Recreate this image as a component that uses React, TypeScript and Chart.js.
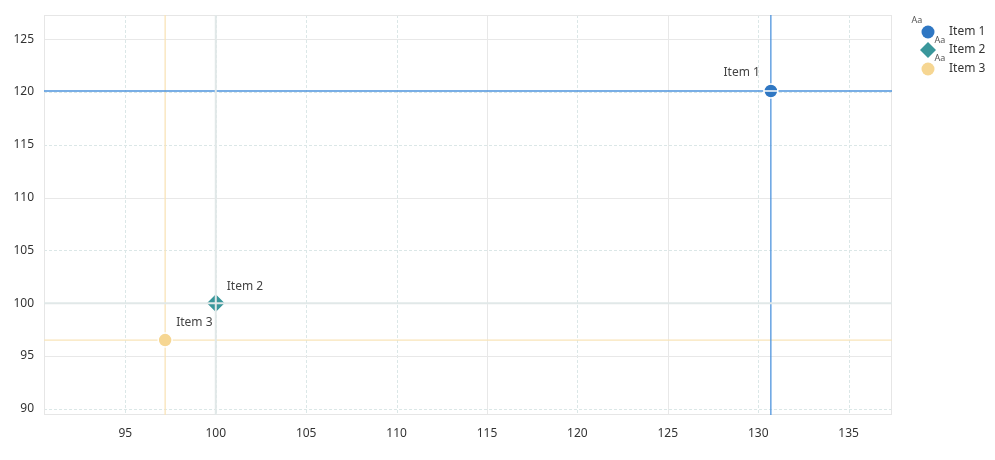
import React, { useEffect, useRef } from "react";
import { Chart, registerables } from "chart.js";

Chart.register(...registerables);

// ---- data ----
const seriesNames = ["Item 1", "Item 2", "Item 3"];
const xValues = [130.7, 100, 97.2];
const yValues = [120.1, 100, 96.5];
const xRange = [90.5, 137.4];
const yRange = [89.4, 127.3];
const tickStep = 5;
const solidGridX = [115, 125];
const solidGridY = [95, 110, 125];

// ---- styles ----
const pointColors = ["#2f77c3", "#3a979b", "#f6d692"];
const pointStyles = ["circle", "rectRot", "circle"];
const pointRadii = [7, 10, 7];
const crossColors = ["#4d93dd", "#e1e8e8", "#f9e4b8"];
const crossWidths = [1.3, 2, 1.3];
const labelOffsets = [
  { dx: -11, dy: -18, align: "right" },
  { dx: 11, dy: -17, align: "left" },
  { dx: 11, dy: -17, align: "left" },
];
const FONT = "'Noto Sans', 'Open Sans', sans-serif";

const overlay = {
  id: "overlay",
  beforeDatasetsDraw(chart: any) {
    const { ctx, chartArea: a, scales } = chart;
    const x = scales.x;
    const y = scales.y;
    const line = (x1: number, y1: number, x2: number, y2: number) => {
      ctx.beginPath();
      ctx.moveTo(x1, y1);
      ctx.lineTo(x2, y2);
      ctx.stroke();
    };
    ctx.save();
    // dashed grid
    ctx.strokeStyle = "#dbe7e7";
    ctx.lineWidth = 1;
    ctx.setLineDash([3, 2]);
    x.ticks.forEach((t: any) => {
      const px = Math.round(x.getPixelForValue(t.value)) + 0.5;
      line(px, a.top, px, a.bottom);
    });
    y.ticks.forEach((t: any) => {
      const py = Math.round(y.getPixelForValue(t.value)) + 0.5;
      line(a.left, py, a.right, py);
    });
    // solid grid
    ctx.setLineDash([]);
    ctx.strokeStyle = "#e8e8e8";
    solidGridX.forEach((v) => {
      const px = Math.round(x.getPixelForValue(v)) + 0.5;
      line(px, a.top, px, a.bottom);
    });
    solidGridY.forEach((v) => {
      const py = Math.round(y.getPixelForValue(v)) + 0.5;
      line(a.left, py, a.right, py);
    });
    // border
    ctx.strokeStyle = "#e6e6e6";
    ctx.strokeRect(a.left + 0.5, a.top + 0.5, a.width - 1, a.height - 1);
    // crosshair lines (item 3 first, item 1 last)
    for (let i = seriesNames.length - 1; i >= 0; i--) {
      if (i === 1) continue;
      const px = x.getPixelForValue(xValues[i]);
      const py = y.getPixelForValue(yValues[i]);
      ctx.strokeStyle = crossColors[i];
      ctx.lineWidth = crossWidths[i];
      line(px, a.top, px, a.bottom);
      line(a.left, py, a.right, py);
    }
    ctx.restore();
  },
  afterDatasetsDraw(chart: any) {
    const { ctx, chartArea: a, scales } = chart;
    const x = scales.x;
    const y = scales.y;
    const line = (x1: number, y1: number, x2: number, y2: number) => {
      ctx.beginPath();
      ctx.moveTo(x1, y1);
      ctx.lineTo(x2, y2);
      ctx.stroke();
    };
    ctx.save();
    // item 2 crosshair drawn over its marker
    {
      const i = 1;
      const px = x.getPixelForValue(xValues[i]);
      const py = y.getPixelForValue(yValues[i]);
      ctx.strokeStyle = crossColors[i];
      ctx.lineWidth = crossWidths[i];
      line(px, a.top, px, a.bottom);
      line(a.left, py, a.right, py);
    }
    // white stripe through item 1 marker
    {
      const px = x.getPixelForValue(xValues[0]);
      const py = y.getPixelForValue(yValues[0]);
      ctx.strokeStyle = "#ffffff";
      ctx.lineWidth = 1.5;
      line(px - pointRadii[0], py, px + pointRadii[0], py);
    }
    // data labels
    ctx.font = `12px ${FONT}`;
    ctx.fillStyle = "#444";
    ctx.textBaseline = "middle";
    seriesNames.forEach((name, i) => {
      const px = x.getPixelForValue(xValues[i]);
      const py = y.getPixelForValue(yValues[i]);
      const o = labelOffsets[i];
      ctx.textAlign = o.align;
      ctx.fillText(name, px + o.dx, py + o.dy);
    });
    ctx.restore();
  },
  afterDraw(chart: any) {
    const { ctx, chartArea: a } = chart;
    ctx.save();
    const mx = a.right + 36;
    const ys = [32, 50, 69];
    seriesNames.forEach((name, i) => {
      const cy = ys[i];
      ctx.fillStyle = pointColors[i];
      ctx.beginPath();
      if (pointStyles[i] === "rectRot") {
        const r = 8;
        ctx.moveTo(mx, cy - r);
        ctx.lineTo(mx + r, cy);
        ctx.lineTo(mx, cy + r);
        ctx.lineTo(mx - r, cy);
        ctx.closePath();
      } else {
        ctx.arc(mx, cy, 6.5, 0, Math.PI * 2);
      }
      ctx.fill();
      ctx.font = `12px ${FONT}`;
      ctx.fillStyle = "#333";
      ctx.textAlign = "left";
      ctx.textBaseline = "middle";
      ctx.fillText(name, mx + 21, cy);
    });
    // small "Aa" label markers
    ctx.font = `9px ${FONT}`;
    ctx.fillStyle = "#555";
    ctx.textAlign = "center";
    ctx.textBaseline = "middle";
    ctx.fillText("Aa", mx - 11, 20);
    ctx.fillText("Aa", mx + 12, 40);
    ctx.fillText("Aa", mx + 12, 58);
    ctx.restore();
  },
};

export default function App() {
  const ref = useRef<HTMLCanvasElement>(null);
  useEffect(() => {
    document.body.style.margin = "0";
    const chart = new Chart(ref.current as HTMLCanvasElement, {
      type: "scatter",
      data: {
        datasets: seriesNames.map((name, i) => ({
          label: name,
          data: [{ x: xValues[i], y: yValues[i] }],
          backgroundColor: pointColors[i],
          borderColor: "#ffffff",
          borderWidth: 1.5,
          pointStyle: pointStyles[i] as any,
          pointRadius: pointRadii[i],
        })),
      },
      options: {
        animation: false,
        responsive: true,
        maintainAspectRatio: false,
        layout: { padding: { top: 15, right: 103, left: 0, bottom: 0 } },
        plugins: { legend: { display: false }, tooltip: { enabled: false } },
        scales: {
          x: {
            type: "linear",
            min: xRange[0],
            max: xRange[1],
            grid: { display: false, drawTicks: false },
            border: { display: false },
            ticks: {
              stepSize: tickStep,
              includeBounds: false,
              padding: 11,
              color: "#333",
              font: { family: FONT, size: 12 },
            },
            afterFit: (s: any) => {
              s.height = 45;
              s.paddingLeft = 0;
              s.paddingRight = 0;
            },
          },
          y: {
            type: "linear",
            min: yRange[0],
            max: yRange[1],
            grid: { display: false, drawTicks: false },
            border: { display: false },
            ticks: {
              stepSize: tickStep,
              includeBounds: false,
              padding: 10,
              color: "#333",
              font: { family: FONT, size: 12 },
            },
            afterFit: (s: any) => {
              s.width = 44;
              s.paddingTop = 0;
              s.paddingBottom = 0;
            },
          },
        },
      },
      plugins: [overlay],
    });
    return () => chart.destroy();
  }, []);
  return (
    <div style={{ position: "relative", width: 995, height: 460 }}>
      <canvas ref={ref} />
    </div>
  );
}
